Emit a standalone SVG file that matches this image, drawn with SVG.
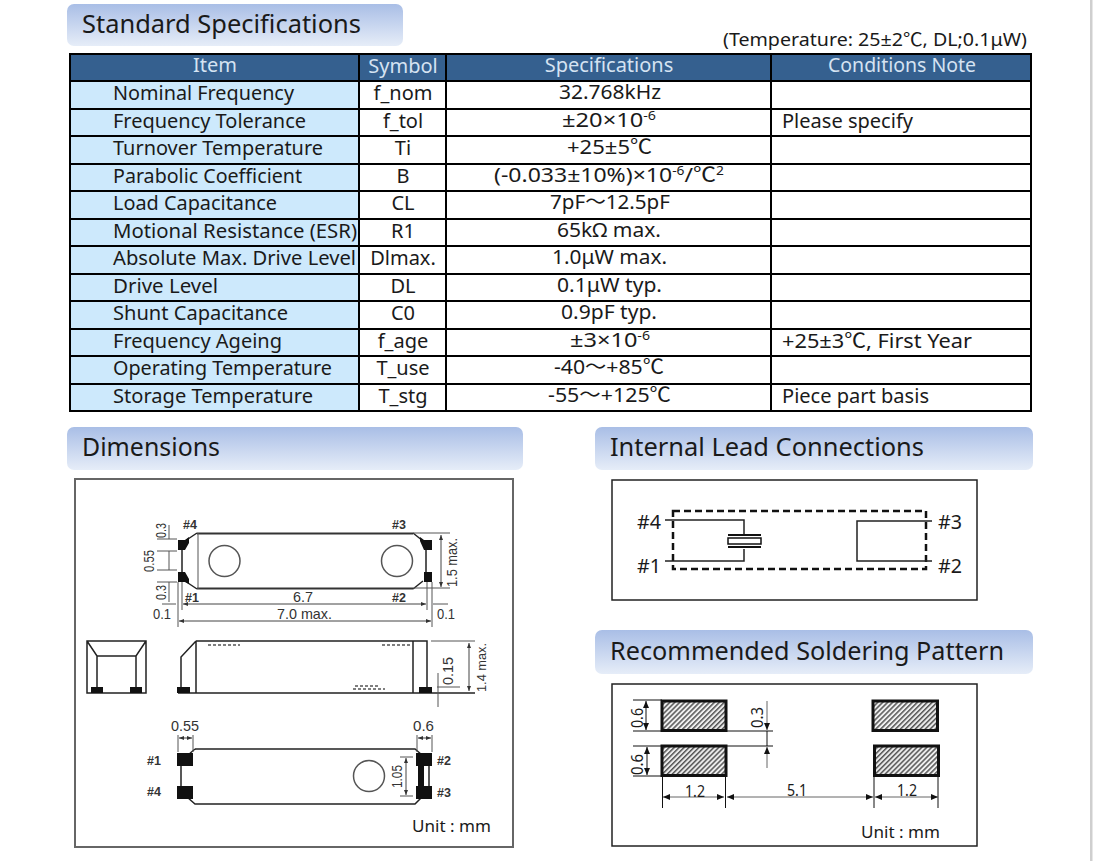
<svg xmlns="http://www.w3.org/2000/svg" width="1093" height="861" viewBox="0 0 1093 861">
<style>
text{font-family:"Noto Sans","DejaVu Sans",sans-serif;fill:#1a1a1a}
.h{font-size:25px}
.t{font-size:20px}
.w{font-size:20px;fill:#d5e3f2;text-anchor:middle}
.c{text-anchor:middle}
.sup{font-size:12px}
.j{font-family:"Noto Sans CJK JP","Noto Sans",sans-serif}
.d{font-size:14.500px;font-family:"Liberation Sans",sans-serif;fill:#333}
.n{font-size:12.500px;font-weight:bold;font-family:"Liberation Sans",sans-serif;fill:#333}
.u{font-size:17px}
.q{font-size:15.500px}
.l{fill:none;stroke:#222;stroke-width:1.500}
.g{fill:none;stroke:#555;stroke-width:1}
.m{fill:none;stroke:#444;stroke-width:1;marker-start:url(#s);marker-end:url(#s)}
.b{fill:#111;stroke:none}
.box{fill:#fff;stroke:#222;stroke-width:1.500}
.pad{fill:url(#hatch);stroke:#111;stroke-width:3}
.ar{fill:none;stroke:#111;stroke-width:1;marker-start:url(#a);marker-end:url(#a)}
.ar2{fill:none;stroke:#666;stroke-width:1;marker-start:url(#a);marker-end:url(#a)}
</style>
<defs>
<linearGradient id="bar" x1="0" y1="0" x2="0" y2="1"><stop offset="0" stop-color="#a9bee6"/><stop offset="1" stop-color="#e6edf8"/></linearGradient>
<pattern id="hatch" width="3.500" height="3.500" patternUnits="userSpaceOnUse" patternTransform="rotate(-45)"><rect width="3.500" height="3.500" fill="#eee"/><rect width="3.500" height="1.500" fill="#555"/></pattern>
<marker id="a" viewBox="0 0 7 6" refX="7" refY="3" markerWidth="7" markerHeight="6" orient="auto-start-reverse"><path d="M0 0L7 3L0 6z" fill="#111"/></marker>
<marker id="s" viewBox="0 0 5 4" refX="5" refY="2" markerWidth="5" markerHeight="4" orient="auto-start-reverse"><path d="M0 0L5 2L0 4z" fill="#333"/></marker>
</defs>
<rect width="1093" height="861" fill="#fff"/>
<rect id="edge" x="1090" y="0" width="2.500" height="861" fill="#cfcfcf"/>
<g id="title-spec"><rect x="67" y="4" width="336" height="42" rx="7" fill="url(#bar)"/><text class="h" x="82" y="33" textLength="279" lengthAdjust="spacingAndGlyphs">Standard Specifications</text></g>
<text id="cond" x="723" y="46" style="font-size:18px" textLength="304" lengthAdjust="spacingAndGlyphs">(Temperature: 25±2<tspan class="j">℃</tspan>, DL;0.1μW)</text>
<g id="table">
<rect x="71" y="55" width="960" height="26" fill="#35608f"/>
<rect x="71" y="81" width="288" height="330" fill="#cde9fc"/>
<g stroke="#000" stroke-width="2" fill="none">
<rect x="70" y="54" width="961" height="357"/>
<path d="M359 54V411M446 54V411M771 54V411M70 81H1031M70 109H1031M70 136H1031M70 164H1031M70 191H1031M70 219H1031M70 246H1031M70 274H1031M70 301H1031M70 329H1031M70 356H1031M70 384H1031"/>
</g>
<text class="w" x="215" y="72">Item</text><text class="w" x="403" y="73">Symbol</text><text class="w" x="609" y="72">Specifications</text><text class="w" x="902" y="72" textLength="148" lengthAdjust="spacingAndGlyphs">Conditions Note</text>
<g>
<text class="t" x="113" y="100" textLength="181" lengthAdjust="spacingAndGlyphs">Nominal Frequency</text>
<text class="t" x="113" y="128" textLength="193" lengthAdjust="spacingAndGlyphs">Frequency Tolerance</text>
<text class="t" x="113" y="155" textLength="210" lengthAdjust="spacingAndGlyphs">Turnover Temperature</text>
<text class="t" x="113" y="183" textLength="189" lengthAdjust="spacingAndGlyphs">Parabolic Coefficient</text>
<text class="t" x="113" y="210" textLength="164" lengthAdjust="spacingAndGlyphs">Load Capacitance</text>
<text class="t" x="113" y="238" textLength="244" lengthAdjust="spacingAndGlyphs">Motional Resistance (ESR)</text>
<text class="t" x="113" y="265" textLength="243" lengthAdjust="spacingAndGlyphs">Absolute Max. Drive Level</text>
<text class="t" x="113" y="293" textLength="105" lengthAdjust="spacingAndGlyphs">Drive Level</text>
<text class="t" x="113" y="320" textLength="175" lengthAdjust="spacingAndGlyphs">Shunt Capacitance</text>
<text class="t" x="113" y="348" textLength="169" lengthAdjust="spacingAndGlyphs">Frequency Ageing</text>
<text class="t" x="113" y="375" textLength="219" lengthAdjust="spacingAndGlyphs">Operating Temperature</text>
<text class="t" x="113" y="403" textLength="200" lengthAdjust="spacingAndGlyphs">Storage Temperature</text>
</g>
<g>
<text class="t c" x="403" y="100">f_nom</text><text class="t c" x="403" y="128">f_tol</text><text class="t c" x="403" y="155">Ti</text><text class="t c" x="403" y="183">B</text><text class="t c" x="403" y="210">CL</text><text class="t c" x="403" y="238">R1</text><text class="t c" x="403" y="265">Dlmax.</text><text class="t c" x="403" y="293">DL</text><text class="t c" x="403" y="320">C0</text><text class="t c" x="403" y="348">f_age</text><text class="t c" x="403" y="375">T_use</text><text class="t c" x="403" y="403">T_stg</text>
</g>
<g>
<text class="t" x="559" y="99" textLength="102" lengthAdjust="spacingAndGlyphs">32.768kHz</text>
<text class="t" x="562" y="127" textLength="94" lengthAdjust="spacingAndGlyphs">±20×10<tspan class="sup" dy="-7">-6</tspan></text>
<text class="t" x="567" y="154" textLength="85" lengthAdjust="spacingAndGlyphs">+25±5<tspan class="j">℃</tspan></text>
<text class="t" x="494" y="182" textLength="230" lengthAdjust="spacingAndGlyphs">(-0.033±10%)×10<tspan class="sup" dy="-7">-6</tspan><tspan dy="7">/</tspan><tspan class="j">℃</tspan><tspan class="sup" dy="-7">2</tspan></text>
<text class="t" x="550" y="209" textLength="120" lengthAdjust="spacingAndGlyphs">7pF<tspan class="j">～</tspan>12.5pF</text>
<text class="t" x="557" y="237" textLength="104" lengthAdjust="spacingAndGlyphs">65kΩ max.</text>
<text class="t" x="552" y="264" textLength="115" lengthAdjust="spacingAndGlyphs">1.0μW max.</text>
<text class="t" x="557" y="292" textLength="105" lengthAdjust="spacingAndGlyphs">0.1μW typ.</text>
<text class="t" x="561" y="319" textLength="96" lengthAdjust="spacingAndGlyphs">0.9pF typ.</text>
<text class="t" x="570" y="347" textLength="80" lengthAdjust="spacingAndGlyphs">±3×10<tspan class="sup" dy="-7">-6</tspan></text>
<text class="t" x="554" y="374" textLength="110" lengthAdjust="spacingAndGlyphs">-40<tspan class="j">～</tspan>+85<tspan class="j">℃</tspan></text>
<text class="t" x="548" y="402" textLength="123" lengthAdjust="spacingAndGlyphs">-55<tspan class="j">～</tspan>+125<tspan class="j">℃</tspan></text>
<text class="t" x="782" y="128" textLength="131" lengthAdjust="spacingAndGlyphs">Please specify</text>
<text class="t" x="782" y="348" textLength="190" lengthAdjust="spacingAndGlyphs">+25±3<tspan class="j">℃</tspan>, First Year</text>
<text class="t" x="782" y="403" textLength="147" lengthAdjust="spacingAndGlyphs">Piece part basis</text>
</g>
</g>
<g id="title-dim"><rect x="67" y="427" width="456" height="43" rx="7" fill="url(#bar)"/><text class="h" x="82" y="456" textLength="138" lengthAdjust="spacingAndGlyphs">Dimensions</text></g>
<g id="title-lead"><rect x="595" y="427" width="438" height="43" rx="7" fill="url(#bar)"/><text class="h" x="610" y="456" textLength="314" lengthAdjust="spacingAndGlyphs">Internal Lead Connections</text></g>
<g id="title-sold"><rect x="595" y="630" width="438" height="44" rx="7" fill="url(#bar)"/><text class="h" x="610" y="660" textLength="394" lengthAdjust="spacingAndGlyphs">Recommended Soldering Pattern</text></g>
<g id="dimensions">
<rect x="75" y="479" width="438" height="368" fill="#fff" stroke="#666" stroke-width="2"/>
<path d="M197 533.500H413M197 588.500H413" stroke="#333" stroke-width="2" fill="none"/>
<path class="l" d="M182 540V582M197 533L185 541M197 589L185 581M413 533L423 541M413 589L423 581M426 541V581"/>
<path class="g" d="M198 533V589"/>
<circle cx="224.500" cy="561" r="15.500" fill="#fff" stroke="#555" stroke-width="1.500"/>
<circle cx="397" cy="561" r="15.500" fill="#fff" stroke="#555" stroke-width="1.500"/>
<path class="b" d="M178 540H185L189 537V543L185 550H178zM178 572H185L189 579V584L185 582H178zM432 540H424L420 537V541L424 550H432zM432 572H424V582H432z"/>
<path class="g" d="M157 539H177M157 551H177M157 570H177M157 582H177M169 525V539M169 551V570M169 582V602"/>
<path class="g" d="M178 582V627M182 582V610M427 582V610M432 582V627M413 533H450M413 588H450M162 604H176M433 604H448"/>
<path class="m" d="M441 535V587"/>
<path class="m" d="M183 604H426"/>
<path class="m" d="M179 621H431"/>
<text class="n" x="183" y="529">#4</text>
<text class="n" x="392" y="529">#3</text>
<text class="n" x="185" y="602">#1</text>
<text class="n" x="392" y="602">#2</text>
<text class="d" x="293" y="602" textLength="20" lengthAdjust="spacingAndGlyphs">6.7</text>
<text class="d" x="277" y="619" textLength="55" lengthAdjust="spacingAndGlyphs">7.0 max.</text>
<text class="d" x="153" y="619" textLength="18" lengthAdjust="spacingAndGlyphs">0.1</text>
<text class="d" x="437" y="619" textLength="18" lengthAdjust="spacingAndGlyphs">0.1</text>
<text class="d" transform="translate(166,538)rotate(-90)" textLength="15" lengthAdjust="spacingAndGlyphs">0.3</text>
<text class="d" transform="translate(154,572)rotate(-90)" textLength="22" lengthAdjust="spacingAndGlyphs">0.55</text>
<text class="d" transform="translate(166,600)rotate(-90)" textLength="15" lengthAdjust="spacingAndGlyphs">0.3</text>
<text class="d" transform="translate(457,587)rotate(-90)" textLength="49" lengthAdjust="spacingAndGlyphs">1.5 max.</text>
<path class="l" d="M87 641H146V693H87zM87 641L97 656H136L146 641M97 656V693M136 656V693"/>
<path class="b" d="M91 687H103V693H91zM130 687H142V693H130z"/>
<path class="l" d="M196 641H427V687M413 641V693M196 641V693M181 693V657L196 641M178 693H475"/>
<path class="g" d="M431 641H475"/>
<path class="b" d="M177 687H190V693H177zM419 687H432V693H419z"/>
<path d="M208 645H240M382 645H412M353 689H385M355 686H380" stroke="#555" stroke-width="1.500" stroke-dasharray="3 2" fill="none"/>
<path class="g" d="M437 687H460M438 673V707"/>
<path class="m" d="M469 643V691"/>
<text class="d" transform="translate(453,685)rotate(-90)" textLength="28" lengthAdjust="spacingAndGlyphs">0.15</text>
<text class="d" transform="translate(486,692)rotate(-90)" style="font-size:13px" textLength="49" lengthAdjust="spacingAndGlyphs">1.4 max.</text>
<path class="l" d="M195 749H415L422 755M195 749L188 755M187 797L195 804H415L422 797M181 766V786M429 766V786"/>
<path class="b" d="M177 753H193V766H177zM177 786H193V799H177zM416 753H432V766H416zM416 786H432V799H416zM418 766H424V786H418z"/>
<path class="g" d="M178 735V752M193 735V752M417 735V752M432 735V752"/>
<path class="m" d="M179 738H192"/><path class="m" d="M418 738H431"/>
<path class="g" d="M400 757H413M400 796H413"/>
<path class="m" d="M406 758V795"/>
<circle cx="369" cy="776" r="15.500" fill="#fff" stroke="#555" stroke-width="1.500"/>
<text class="d" x="171" y="731" textLength="28" lengthAdjust="spacingAndGlyphs">0.55</text>
<text class="d" x="413" y="731" textLength="21" lengthAdjust="spacingAndGlyphs">0.6</text>
<text class="n" x="147" y="765">#1</text>
<text class="n" x="147" y="796">#4</text>
<text class="n" x="437" y="765">#2</text>
<text class="n" x="437" y="797">#3</text>
<text class="d" transform="translate(402,788)rotate(-90)" textLength="23" lengthAdjust="spacingAndGlyphs">1.05</text>
<text class="u" x="412" y="832" textLength="79" lengthAdjust="spacingAndGlyphs">Unit : mm</text>
</g>
<g id="lead">
<rect class="box" x="612" y="480" width="365" height="120"/>
<rect x="673" y="511" width="253" height="58" fill="none" stroke="#111" stroke-width="2.500" stroke-dasharray="7 4"/>
<path class="l" d="M665 520H744V534M665 561H744V549M932 521H857V561H932"/>
<rect x="728" y="538" width="33" height="6" fill="#fff" stroke="#111" stroke-width="1.500"/>
<path d="M728 535H761M728 547H761" stroke="#111" stroke-width="2" fill="none"/>
<text class="t" x="637" y="529" textLength="24" lengthAdjust="spacingAndGlyphs">#4</text><text class="t" x="637" y="573" textLength="24" lengthAdjust="spacingAndGlyphs">#1</text><text class="t" x="938" y="529" textLength="24" lengthAdjust="spacingAndGlyphs">#3</text><text class="t" x="938" y="573" textLength="24" lengthAdjust="spacingAndGlyphs">#2</text>
</g>
<g id="soldering">
<rect class="box" x="612" y="684" width="365" height="162"/>
<rect class="pad" x="662" y="701" width="64" height="29.500"/>
<rect class="pad" x="662" y="746" width="64" height="29.500"/>
<rect class="pad" x="873" y="701" width="64.500" height="29.500"/>
<rect class="pad" x="874.500" y="746" width="64" height="29.500"/>
<path class="g" style="stroke:#111" d="M633 700H662M633 731H773M633 746H773M633 776H662M662.500 776V808M725.500 776V808M874 776V808M938 776V808M767 731V746"/>
<path d="M767 701V730" stroke="#666" fill="none" marker-end="url(#a)"/>
<path d="M767 768V747" stroke="#666" fill="none" marker-end="url(#a)"/>
<path class="ar" d="M646 701V730"/>
<path class="ar" d="M647 747V775"/>
<path class="ar2" d="M663 797H724"/><path class="ar2" d="M727 797H873"/><path class="ar2" d="M875 797H938"/>
<text class="q" x="685" y="797" textLength="20" lengthAdjust="spacingAndGlyphs">1.2</text><text class="q" x="787" y="796" textLength="20" lengthAdjust="spacingAndGlyphs">5.1</text><text class="q" x="897" y="796" textLength="20" lengthAdjust="spacingAndGlyphs">1.2</text>
<text class="q" transform="translate(643,728)rotate(-90)" textLength="20" lengthAdjust="spacingAndGlyphs">0.6</text>
<text class="q" transform="translate(643,775)rotate(-90)" textLength="21" lengthAdjust="spacingAndGlyphs">0.6</text>
<text class="q" transform="translate(763,728)rotate(-90)" textLength="21" lengthAdjust="spacingAndGlyphs">0.3</text>
<text class="u" x="861" y="838" textLength="79" lengthAdjust="spacingAndGlyphs">Unit : mm</text>
</g>
</svg>
